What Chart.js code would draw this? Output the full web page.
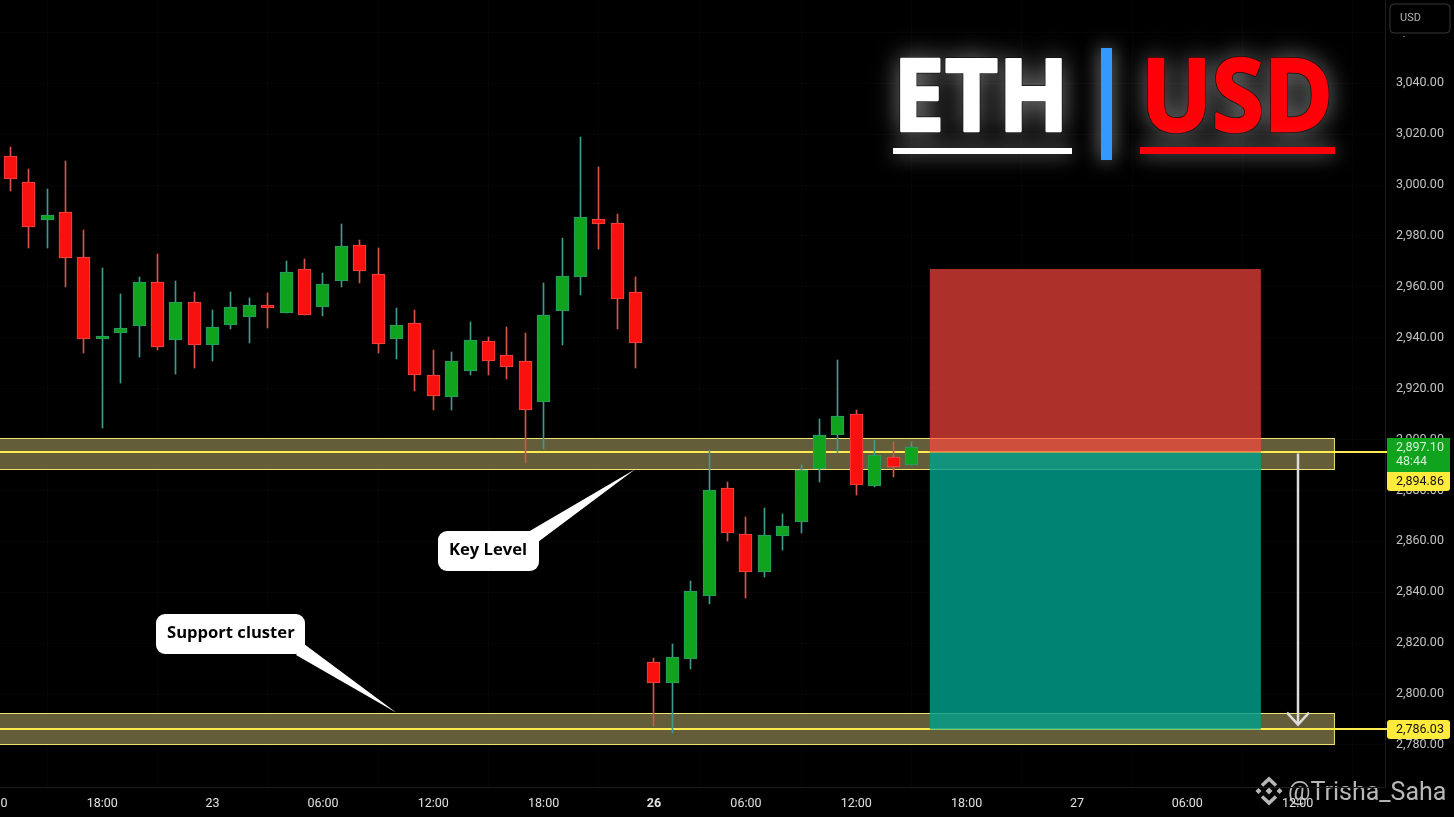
<!DOCTYPE html>
<html>
<head>
<meta charset="utf-8">
<title>ETH USD</title>
<script src="https://cdn.jsdelivr.net/npm/chart.js"></script>
<style>
  html, body { margin: 0; padding: 0; background: #000; overflow: hidden; }
  canvas { display: block; }
</style>
</head>
<body>
<canvas id="c" width="1454" height="817"></canvas>
<script>
// candles
const opens = [3011.3, 3001.1, 2986.4, 2989.3, 2971.6, 2939.6, 2942, 2944.7, 2961.8, 2939.2,
  2953.9, 2937.3, 2945.1, 2948.3, 2952.7, 2949.8, 2966.9, 2952.2, 2962.4, 2976.3,
  2964.9, 2939.6, 2945.7, 2925.2, 2916.8, 2927, 2938.6, 2933.1, 2930.7, 2914.9,
  2950.6, 2964, 2986.5, 2984.9, 2957.8, 2812.4, 2804.5, 2813.9, 2838.6, 2880.8,
  2862.7, 2848.1, 2862.2, 2867.7, 2888.5, 2901.9, 2909.9, 2881.9, 2893, 2889.9];
const closes = [3002.5, 2983.6, 2988.1, 2971.5, 2939.6, 2940.7, 2943.7, 2961.8, 2936.5, 2953.9,
  2937.3, 2944.1, 2951.9, 2952.7, 2951.8, 2965.7, 2949.1, 2961, 2975.9, 2966.3,
  2937.7, 2944.9, 2925.5, 2917.2, 2930.7, 2939, 2931, 2928.6, 2911.7, 2948.8,
  2964.1, 2987.3, 2984.8, 2955.3, 2938.1, 2804.2, 2814.4, 2840.3, 2880, 2863.4,
  2848.1, 2862.3, 2865.9, 2887.9, 2901.6, 2909.1, 2882.3, 2893.8, 2889.1, 2897.1];
const highs = [3014.9, 3006.3, 2998.4, 3009.4, 2982.3, 2967.4, 2957.2, 2963.9, 2972.8, 2962.3,
  2958, 2950.9, 2958, 2955.6, 2957.6, 2970.1, 2970.9, 2965.4, 2984.7, 2978.4,
  2975.3, 2951.7, 2950.9, 2935.2, 2934.4, 2946.2, 2940.3, 2944.2, 2941.9, 2961.5,
  2979.2, 3018.9, 3007.1, 2988.6, 2963.9, 2814.1, 2819.6, 2844.4, 2895.9, 2883.3,
  2869.4, 2873, 2870.7, 2890, 2907.9, 2931.2, 2911.5, 2899.7, 2898.9, 2898.9];
const lows = [2997.6, 2975.4, 2975.4, 2960.1, 2934.1, 2904.7, 2922.3, 2932.6, 2935.3, 2925.9,
  2928.2, 2931, 2943.6, 2938.1, 2943.9, 2949.8, 2949.1, 2948.7, 2960.1, 2961.6,
  2934.1, 2931.8, 2919.2, 2911.7, 2911.7, 2925.5, 2925.5, 2923.9, 2890.9, 2896.4,
  2937.3, 2956.9, 2975, 2943.6, 2928.2, 2787.6, 2784.5, 2809.8, 2835.4, 2860.3,
  2837.9, 2846.1, 2856.6, 2863.4, 2883.4, 2894.6, 2878.3, 2881.5, 2885.4, 2889.9];

// axes
const yTicks = [3060, 3040, 3020, 3000, 2980, 2960, 2940, 2920, 2900, 2880, 2860, 2840, 2820, 2800, 2780];
const xTickIndex = [-1, 5, 11, 17, 23, 29, 35, 40, 46, 52, 58, 64, 70];
const xTickLabels = ['12:00', '18:00', '23', '06:00', '12:00', '18:00', '26', '06:00', '12:00', '18:00', '27', '06:00', '12:00'];

// levels drawn on top of the chart
const keyZone = [2888.4, 2900.4];
const supportZone = [2780.35, 2792.6];
const entryPrice = 2894.86;
const stopPrice = 2967;
const targetPrice = 2786.03;
const zoneEnd = 72;
const boxStart = 50;
const boxEnd = 68;

const indexes = opens.map((_, i) => i);
const isUp = i => closes[i] >= opens[i];
const font = 'Roboto, "Liberation Sans", sans-serif';

function roundRect(ctx, x, y, w, h, r) {
  ctx.beginPath();
  ctx.roundRect(x, y, w, h, r);
}

function calloutShape(ctx, box, tail) {
  ctx.fillStyle = '#fff';
  roundRect(ctx, box[0], box[1], box[2], box[3], 9);
  ctx.fill();
  ctx.beginPath();
  ctx.moveTo(tail[0], tail[1]);
  ctx.lineTo(tail[2], tail[3]);
  ctx.lineTo(tail[4], tail[5]);
  ctx.closePath();
  ctx.fill();
}

// 가격 구간과 포지션 박스 (캔들 아래)
const levelsPlugin = {
  id: 'levels',
  beforeDatasetsDraw(chart) {
    const { ctx, scales: { x, y } } = chart;

    // snap the bars to whole pixels
    chart.data.datasets.forEach((_, d) => {
      chart.getDatasetMeta(d).data.forEach(bar => {
        bar.x = Math.round(bar.x - 0.5) + 0.5;
        bar.y = Math.round(bar.y);
        bar.base = Math.round(bar.base);
      });
    });

    ctx.save();
    const xEnd = x.getPixelForValue(zoneEnd);
    [keyZone, supportZone].forEach(z => {
      const top = Math.round(y.getPixelForValue(z[1])) + 0.5;
      const bottom = Math.round(y.getPixelForValue(z[0])) + 0.5;
      ctx.fillStyle = '#635d3a';
      ctx.fillRect(0, top, xEnd, bottom - top);
      ctx.strokeStyle = '#f0e272';
      ctx.lineWidth = 1;
      ctx.strokeRect(-2, top, xEnd + 2, bottom - top);
    });

    ctx.strokeStyle = '#ffeb4d';
    ctx.lineWidth = 2;
    [entryPrice, targetPrice].forEach(p => {
      const py = Math.floor(y.getPixelForValue(p));
      ctx.beginPath();
      ctx.moveTo(0, py);
      ctx.lineTo(1387, py);
      ctx.stroke();
    });

    const left = x.getPixelForValue(boxStart);
    const right = x.getPixelForValue(boxEnd);
    const yEntry = y.getPixelForValue(entryPrice);
    const yStop = y.getPixelForValue(stopPrice);
    const yTarget = y.getPixelForValue(targetPrice);
    ctx.fillStyle = 'rgba(255,72,62,0.68)';
    ctx.fillRect(left, yStop, right - left, yEntry - yStop);
    ctx.fillStyle = 'rgba(0,160,139,0.82)';
    ctx.fillRect(left, yEntry, right - left, yTarget - yEntry);
    ctx.restore();
  },
  afterDraw(chart) {
    const { ctx, scales: { x, y } } = chart;
    ctx.save();

    // arrow down to target
    const ax = Math.round(x.getPixelForValue(70));
    const aTop = y.getPixelForValue(entryPrice) + 1;
    const aTip = y.getPixelForValue(2788);
    ctx.strokeStyle = '#dcdcdc';
    ctx.lineWidth = 2.5;
    ctx.beginPath();
    ctx.moveTo(ax, aTop);
    ctx.lineTo(ax, aTip);
    ctx.moveTo(ax - 11, aTip - 12);
    ctx.lineTo(ax, aTip);
    ctx.lineTo(ax + 11, aTip - 12);
    ctx.stroke();

    // callouts
    const keyTipY = y.getPixelForValue(keyZone[0]);
    calloutShape(ctx, [438, 531, 101, 40], [528, 532, x.getPixelForValue(34), keyTipY, 538, 542]);
    const supTipY = y.getPixelForValue(supportZone[1]);
    calloutShape(ctx, [156, 614, 149, 40], [304, 644, x.getPixelForValue(21), supTipY, 296, 655]);
    ctx.fillStyle = '#000';
    ctx.font = 'bold 16.6px "Open Sans", sans-serif';
    ctx.textAlign = 'left';
    ctx.textBaseline = 'alphabetic';
    ctx.fillText('Key Level', 449, 555, 80);
    ctx.fillText('Support cluster', 167, 638, 128);

    // title
    ctx.font = 'bold 101px "Open Sans", sans-serif';
    ctx.lineJoin = 'round';
    const glowText = (t, px, py, w, col) => {
      ctx.shadowColor = 'rgba(255,255,255,0.6)';
      ctx.shadowBlur = 26;
      ctx.fillStyle = col;
      ctx.fillText(t, px, py, w);
      ctx.shadowBlur = 0;
      ctx.lineWidth = 4;
      ctx.strokeStyle = '#111';
      ctx.strokeText(t, px, py, w);
      ctx.lineWidth = 2.5;
      ctx.strokeStyle = col;
      ctx.strokeText(t, px, py, w);
      ctx.fillText(t, px, py, w);
    };
    glowText('ETH', 893, 131, 176, '#fff');
    glowText('USD', 1141, 131, 192, '#ff0008');
    const glowBar = (bx, by, w, h, col) => {
      ctx.shadowColor = 'rgba(255,255,255,0.6)';
      ctx.shadowBlur = 20;
      ctx.fillStyle = col;
      ctx.fillRect(bx, by, w, h);
      ctx.shadowBlur = 0;
    };
    glowBar(893, 148, 179, 6, '#fff');
    glowBar(1140, 147, 195, 7, '#ff0008');
    glowBar(1101, 48, 11, 112, '#3399ff');

    // currency box, the black strip hides the 3,060 digits
    ctx.fillStyle = '#000';
    ctx.fillRect(1386, 0, 68, 36);
    roundRect(ctx, 1390, 4, 60, 29, 4);
    ctx.fill();
    ctx.strokeStyle = '#363636';
    ctx.lineWidth = 1;
    ctx.stroke();
    ctx.fillStyle = '#b4b4b4';
    ctx.font = '11px ' + font;
    ctx.textBaseline = 'middle';
    ctx.fillText('USD', 1400, 18.5);

    // price labels
    ctx.fillStyle = '#10a31e';
    ctx.fillRect(1387, 438, 63, 34);
    ctx.fillStyle = '#ffeb3b';
    roundRect(ctx, 1387, 472, 63, 19, [0, 0, 3, 3]);
    ctx.fill();
    roundRect(ctx, 1387, 720, 63, 19, 3);
    ctx.fill();
    ctx.font = '12.5px ' + font;
    ctx.fillStyle = '#d6f0d6';
    ctx.fillText('2,897.10', 1396, 447.5);
    ctx.fillText('48:44', 1396, 462);
    ctx.fillStyle = '#111';
    ctx.fillText('2,894.86', 1396, 481.5);
    ctx.fillText('2,786.03', 1396, 729.5);
    ctx.restore();
  }
};

// watermark sits under the axis text
const watermarkPlugin = {
  id: 'watermark',
  beforeDraw(chart) {
    const { ctx } = chart;
    ctx.save();
    ctx.fillStyle = '#b8b8b8';
    const cx = 1269, cy = 791;
    const diamond = (dx, dy, r) => {
      ctx.beginPath();
      ctx.moveTo(cx + dx, cy + dy - r);
      ctx.lineTo(cx + dx + r, cy + dy);
      ctx.lineTo(cx + dx, cy + dy + r);
      ctx.lineTo(cx + dx - r, cy + dy);
      ctx.closePath();
      ctx.fill();
    };
    diamond(0, 0, 3.5);
    diamond(-10.5, 0, 3);
    diamond(10.5, 0, 3);
    ctx.strokeStyle = '#b8b8b8';
    ctx.lineWidth = 3.5;
    ctx.beginPath();
    ctx.moveTo(cx - 7, cy - 5.5);
    ctx.lineTo(cx, cy - 12);
    ctx.lineTo(cx + 7, cy - 5.5);
    ctx.moveTo(cx - 7, cy + 5.5);
    ctx.lineTo(cx, cy + 12);
    ctx.lineTo(cx + 7, cy + 5.5);
    ctx.stroke();
    ctx.font = '25px ' + font;
    ctx.textBaseline = 'alphabetic';
    ctx.fillText('@Trisha_Saha', 1288, 800);
    ctx.restore();
  }
};

// keep first/last tick labels from pushing the plot area inward
function noPadding(scale) {
  scale.paddingLeft = 0;
  scale.paddingRight = 0;
  scale.paddingTop = 0;
  scale.paddingBottom = 0;
}

new Chart(document.getElementById('c'), {
  type: 'bar',
  data: {
    datasets: [
      {
        // bodies first so they end up on top of the wicks
        data: indexes.map(i => ({ x: i, y: [opens[i], closes[i]] })),
        backgroundColor: indexes.map(i => isUp(i) ? '#10a31e' : '#f8110e'),
        borderColor: indexes.map(i => isUp(i) ? '#2e9a72' : '#ee4c45'),
        borderWidth: 1,
        borderSkipped: false,
        barThickness: 13
      },
      {
        data: indexes.map(i => ({ x: i, y: [lows[i], highs[i]] })),
        backgroundColor: indexes.map(i => isUp(i) ? '#3f9a8c' : '#d8534c'),
        borderWidth: 0,
        barThickness: 1
      }
    ]
  },
  plugins: [watermarkPlugin, levelsPlugin],
  options: {
    responsive: false,
    animation: false,
    layout: { padding: 0 },
    plugins: { legend: { display: false }, tooltip: { enabled: false } },
    scales: {
      x: {
        type: 'linear',
        offset: false,
        stacked: true,
        min: -0.56,
        max: 74.75,
        afterBuildTicks: scale => { scale.ticks = xTickIndex.map(v => ({ value: v })); },
        afterFit: scale => { scale.height = 30; noPadding(scale); },
        grid: { color: 'rgba(255,255,255,0.018)', drawTicks: false },
        border: { color: '#1c1c1c' },
        ticks: {
          autoSkip: false,
          maxRotation: 0,
          padding: 9,
          color: '#e0e0e0',
          font: ctx => ({
            family: 'Roboto, "Liberation Sans", sans-serif',
            size: 12.5,
            weight: xTickLabels[ctx.index] === '26' ? 'bold' : 'normal'
          }),
          callback: (v, i) => xTickLabels[i]
        }
      },
      y: {
        position: 'right',
        min: 2763.46,
        max: 3072.7,
        afterBuildTicks: scale => { scale.ticks = yTicks.map(v => ({ value: v })); },
        afterFit: scale => { scale.width = 69; noPadding(scale); },
        grid: { color: 'rgba(255,255,255,0.018)', drawTicks: false },
        border: { color: '#1c1c1c' },
        ticks: {
          padding: 11,
          color: '#c4c4c4',
          font: { family: 'Roboto, "Liberation Sans", sans-serif', size: 12.5 },
          callback: v => v.toLocaleString('en-US', { minimumFractionDigits: 2, maximumFractionDigits: 2 })
        }
      }
    }
  }
});
</script>
</body>
</html>
